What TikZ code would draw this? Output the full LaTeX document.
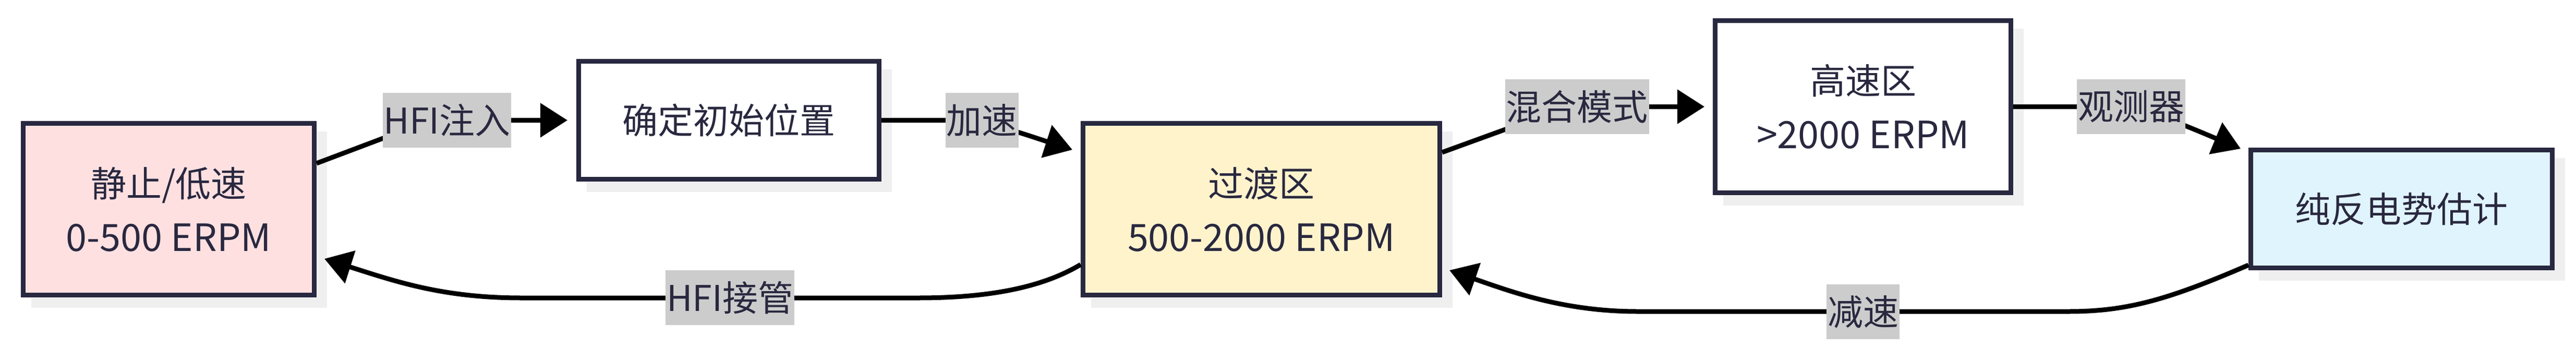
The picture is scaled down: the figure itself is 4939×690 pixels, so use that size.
\documentclass[tikz,border=0pt]{standalone}
\usepackage{fontspec}
\setmainfont{Noto Sans CJK SC}
\usetikzlibrary{arrows.meta,calc,shadows}
\definecolor{bd}{HTML}{282840}
\definecolor{txt}{HTML}{29283F}
\definecolor{pinkf}{HTML}{FFE0E1}
\definecolor{yelf}{HTML}{FFF3CC}
\definecolor{bluef}{HTML}{E0F4FD}
\definecolor{shg}{HTML}{EFEFEF}
\definecolor{lblg}{HTML}{CCCCCC}
\newcommand{\latinline}{\fontsize{36pt}{52pt}\selectfont}
\begin{document}
\begin{tikzpicture}[x=0.5pt,y=-0.5pt,
  box/.style={draw=bd, line width=4.5pt, text=txt, align=center,
    font=\fontsize{34pt}{52pt}\selectfont, inner sep=0pt,
    general shadow={fill=shg, draw=shg, line width=4.5pt,
      shadow xshift=10pt, shadow yshift=-10pt}},
  lbl/.style={fill=lblg, text=txt, font=\fontsize{34pt}{40pt}\selectfont,
    inner xsep=1pt, inner ysep=0pt, minimum height=52.5pt},
  edge/.style={line width=4.5pt, draw=black,
    -{Triangle[length=26pt,width=32pt]}},
]
\useasboundingbox (0,0) rectangle (4939,690);

\node[box, fill=pinkf, minimum width=279pt, minimum height=164.5pt] (A) at (323.5,401) {静止/低速\\\latinline 0-500 ERPM};
\node[box, fill=white, minimum width=288pt, minimum height=113pt] (B) at (1397.5,230.5) {确定初始位置};
\node[box, fill=yelf, minimum width=342pt, minimum height=164.5pt] (C) at (2418.5,401) {过渡区\\\latinline 500-2000 ERPM};
\node[box, fill=white, minimum width=283.5pt, minimum height=165pt] (D) at (3572,204.5) {高速区\\\latinline >2000 ERPM};
\node[box, fill=bluef, minimum width=289pt, minimum height=113pt] (E) at (4604.5,400.5) {纯反电势估计};

% edges
\draw[edge, rounded corners=20pt] ($(A.east)+(0,-88)$) -- (826,230.5) -- ($(B.west)+(-17,0)$);
\draw[edge] (B.east) -- (1830,230.5) .. controls (1890,230.5) and (1960,256) .. ($(C.west)+(-16,-114)$);
\draw[edge, rounded corners=20pt] ($(C.east)+(0,-109)$) -- (3006,204.5) -- ($(D.west)+(-16,0)$);
\draw[edge] (D.east) -- (4040,204.5) .. controls (4110,204.5) and (4190,241) .. ($(E.west)+(-15,-115.5)$);
\draw[edge] ($(E.west)+(0,107.5)$) .. controls (4160,573) and (4080,597) .. (3967,597) -- (3140,597) .. controls (3000,597) and (2900,560) .. ($(C.east)+(14,117)$);
\draw[edge] ($(C.west)+(0,106)$) .. controls (2000,550) and (1900,571) .. (1760,571) -- (1000,571) .. controls (850,571) and (760,540) .. ($(A.east)+(15,95)$);

% labels
\node[lbl] (l1) at (857,230.5) {HFI注入};
\node[lbl] (l2) at (1882.5,230.5) {加速};
\node[lbl] (l3) at (3023.5,204.5) {混合模式};
\node[lbl] (l4) at (4086,204.5) {观测器};
\node[lbl] (l5) at (3572,597.5) {减速};
\node[lbl] (l6) at (1399.5,570.5) {HFI接管};
\end{tikzpicture}
\end{document}
